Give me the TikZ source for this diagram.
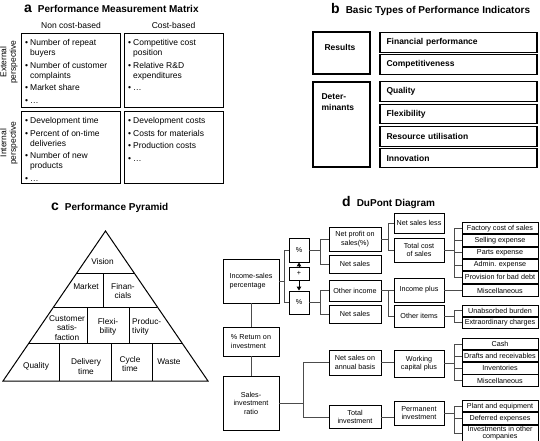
\documentclass[tikz,border=0pt]{standalone}
\usepackage{fontspec}
\setmainfont{Liberation Sans}
\usetikzlibrary{positioning,calc,arrows.meta}

\newcommand{\panelletter}[1]{{\fontsize{14}{14}\selectfont #1}\hspace{6pt}}
\newcommand{\bulletlist}[1]{\begin{tabular}{@{}l@{\hspace{2pt}}l@{}}#1\end{tabular}}

\begin{document}
\begin{tikzpicture}[x=1pt, y=-1pt,
  every node/.style={font=\fontsize{8.5}{10}\selectfont},
  ttl/.style={anchor=west, inner sep=0pt, font=\fontsize{10}{12}\selectfont\bfseries},
  mbox/.style={draw, line width=1pt, minimum width=99pt},
  mlist/.style={anchor=north west, inner sep=0pt},
  side/.style={rotate=90, align=center, font=\fontsize{8.5}{9.5}\selectfont},
  bbox/.style={draw, line width=1.2pt, minimum width=57pt},
  btxt/.style={anchor=north west, inner sep=0pt, align=left, font=\fontsize{8.5}{11}\selectfont\bfseries},
  tbox/.style={draw, line width=1.2pt, minimum width=157pt, minimum height=19.5pt, inner xsep=6.5pt, text width=144pt, align=left, font=\fontsize{8.5}{10}\selectfont\bfseries},
  pyr/.style={line width=1pt},
  ptxt/.style={inner sep=0pt, align=center, font=\fontsize{8.3}{9.5}\selectfont},
  dbox/.style={draw, line width=0.9pt, inner sep=1pt, align=center, font=\fontsize{7.2}{8.5}\selectfont},
  rbox/.style={dbox, minimum width=76pt, minimum height=11.4pt, inner sep=0pt},
  conn/.style={draw=black!70, line width=1pt},
  tip/.style={-{Triangle[length=4pt,width=4.5pt]}, draw=black, line width=1pt}
]
\useasboundingbox (0,0) rectangle (540,440);

% a: measurement matrix
\node[ttl] (ttl-a) at (24,9) {\panelletter{a}Performance Measurement Matrix};
\node (hd-non) at (71,25) {Non cost-based};
\node (hd-cost) at (173.5,25) {Cost-based};
\node[mbox, minimum height=74pt] (ext-non) at (70.5,70) {};
\node[mbox, minimum height=74pt] (ext-cost) at (173.5,70) {};
\node[mbox, minimum height=72pt] (int-non) at (70.5,147) {};
\node[mbox, minimum height=72pt] (int-cost) at (173.5,147) {};
\node[side] (lb-ext) at (9,62) {External\\perspective};
\node[side] (lb-int) at (9,143) {Internal\\perspective};
\node[mlist] (ls-en) at ($(ext-non.north west)+(4.5,6)$) {\bulletlist{%
  \textbullet & Number of repeat\\ & buyers\\[2.5pt]
  \textbullet & Number of customer\\ & complaints\\[2.5pt]
  \textbullet & Market share\\[2.5pt]
  \textbullet & \ldots}};
\node[mlist] (ls-ec) at ($(ext-cost.north west)+(4.5,6)$) {\bulletlist{%
  \textbullet & Competitive cost\\ & position\\[2.5pt]
  \textbullet & Relative R\&D\\ & expenditures\\[2.5pt]
  \textbullet & \ldots}};
\node[mlist] (ls-in) at ($(int-non.north west)+(4.5,6)$) {\bulletlist{%
  \textbullet & Development time\\[2.5pt]
  \textbullet & Percent of on-time\\ & deliveries\\[2.5pt]
  \textbullet & Number of new\\ & products\\[2.5pt]
  \textbullet & \ldots}};
\node[mlist] (ls-ic) at ($(int-cost.north west)+(4.5,6)$) {\bulletlist{%
  \textbullet & Development costs\\[2.5pt]
  \textbullet & Costs for materials\\[2.5pt]
  \textbullet & Production costs\\[2.5pt]
  \textbullet & \ldots}};

% b: indicator types
\node[ttl] (ttl-b) at (331,9) {\panelletter{b}Basic Types of Performance Indicators};
\node[bbox, minimum height=42pt] (res) at (341.5,53) {};
\node[bbox, minimum height=85pt] (det) at (341.5,124.5) {};
\node[btxt] (res-txt) at ($(res.north west)+(12,13)$) {Results};
\node[btxt] (det-txt) at ($(det.north west)+(9,12)$) {Deter-\\minants};
\node[tbox] (fin) at (458.5,42.5) {Financial performance};
\node[tbox] (comp) at (458.5,64.5) {Competitiveness};
\node[tbox] (qual) at (458.5,91.5) {Quality};
\node[tbox] (flex) at (458.5,114) {Flexibility};
\node[tbox] (resu) at (458.5,136.5) {Resource utilisation};
\node[tbox] (innov) at (458.5,158) {Innovation};

% c: pyramid
\node[ttl] (ttl-c) at (51,208) {\panelletter{c}Performance Pyramid};
\coordinate (apex) at (105.5,231);
\coordinate (bl) at (3,381);
\coordinate (br) at (208,381);
\draw[pyr] (apex) -- (br) -- (bl) -- cycle;
\foreach \t in {0.28,0.507,0.747}
  \draw[pyr] ($(apex)!\t!(bl)$) -- ($(apex)!\t!(br)$);
\foreach \x/\ya/\yb in {103/273/307, 87/307/343, 129/307/343, 59/343/381, 111/343/381, 152/343/381}
  \draw[pyr] (\x,\ya) -- (\x,\yb);
\node[ptxt] (vision) at (102.5,262) {Vision};
\node[ptxt] (market) at (86,287) {Market};
\node[ptxt] (financials) at (123,291) {Finan-\\cials};
\node[ptxt] (customer) at (67,328) {Customer\\satis-\\faction};
\node[ptxt] (flexi) at (108,327) {Flexi-\\bility};
\node[ptxt, anchor=west, align=left] (produc) at (132,327) {Produc-\\tivity};
\node[ptxt] (quality) at (36,366) {Quality};
\node[ptxt] (delivery) at (86,366.5) {Delivery\\time};
\node[ptxt] (cycle) at (130,364) {Cycle\\time};
\node[ptxt] (waste) at (169,362) {Waste};

% d: DuPont
\node[ttl] (ttl-d) at (342,202) {\panelletter{d}DuPont Diagram};
\node[dbox, minimum width=56pt, minimum height=44pt, align=left] (isp) at (251,281) {Income-sales\\percentage};
\node[dbox, minimum width=56pt, minimum height=29pt, align=left] (roi) at (251,341.5) {\% Return on\\investment};
\node[dbox, minimum width=56pt, minimum height=54pt] (sir) at (251,403) {Sales-\\investment\\ratio};
\node[dbox, minimum width=20pt, minimum height=24pt] (pct1) at (299,250) {\%};
\node[dbox, minimum width=20pt, minimum height=13pt] (plus) at (299,273.5) {+};
\node[dbox, minimum width=20pt, minimum height=23pt] (pct2) at (299,302.5) {\%};
\node[dbox, minimum width=52pt, minimum height=24pt] (nps) at (355,239) {Net profit on\\sales(\%)};
\node[dbox, minimum width=52pt, minimum height=18pt] (ns1) at (355,264) {Net sales};
\node[dbox, minimum width=52pt, minimum height=21pt] (oi) at (355,290.5) {Other income};
\node[dbox, minimum width=52pt, minimum height=18pt] (ns2) at (355,314) {Net sales};
\node[dbox, minimum width=52pt, minimum height=25pt] (nsab) at (355,362.5) {Net sales on\\annual basis};
\node[dbox, minimum width=52pt, minimum height=23pt] (ti) at (355,417) {Total\\investment};
\node[dbox, minimum width=50pt, minimum height=20pt] (nsl) at (419,223) {Net sales less};
\node[dbox, minimum width=50pt, minimum height=24pt] (tcs) at (419,250) {Total cost\\of sales};
\node[dbox, minimum width=50pt, minimum height=24pt] (ip) at (419,290) {Income plus};
\node[dbox, minimum width=50pt, minimum height=22pt] (oit) at (419,316) {Other items};
\node[dbox, minimum width=50pt, minimum height=27pt] (wcp) at (419,363.5) {Working\\capital plus};
\node[dbox, minimum width=50pt, minimum height=24pt] (pi) at (419,413) {Permanent\\investment};

\node[rbox, anchor=north] (fcs) at (500,222) {Factory cost of sales};
\node[rbox, below=0pt of fcs] (se) {Selling expense};
\node[rbox, below=0pt of se] (pe) {Parts expense};
\node[rbox, below=0pt of pe] (ae) {Admin. expense};
\node[rbox, below=0pt of ae] (pbd) {Provision for bad debt};
\node[rbox] (misc1) at (500,290.5) {Miscellaneous};
\node[rbox, minimum height=11pt, anchor=north] (ub) at (500,305) {Unabsorbed burden};
\node[rbox, minimum height=11pt, below=0pt of ub] (ec) {Extraordinary charges};
\node[rbox, minimum height=11.25pt, anchor=north] (cash) at (500,338) {Cash};
\node[rbox, minimum height=11.25pt, below=0pt of cash] (drf) {Drafts and receivables};
\node[rbox, minimum height=11.25pt, below=0pt of drf] (inv) {Inventories};
\node[rbox, minimum height=11.25pt, below=0pt of inv] (misc2) {Miscellaneous};
\node[rbox, anchor=north] (plant) at (500,400) {Plant and equipment};
\node[rbox, below=0pt of plant] (defe) {Deferred expenses};
\node[rbox, minimum height=16pt, below=0pt of defe, font=\fontsize{7.2}{7}\selectfont] (ioc) {Investments in other\\companies};

\draw[conn] (isp) -- (roi);
\draw[conn] (roi) -- (sir);
\foreach \n in {pct1,pct2} \draw[conn] (isp.east) -- +(5,0) |- (\n.west);
\foreach \n in {nps,ns1} \draw[conn] (pct1.east) -- +(11,0) |- (\n.west);
\foreach \n in {oi,ns2} \draw[conn] (pct2.east) -- +(11,0) |- (\n.west);
\foreach \n in {nsl,tcs} \draw[conn] (nps.east) -- +(7,0) |- (\n.west);
\foreach \n in {ip,oit} \draw[conn] (oi.east) -- +(7,0) |- (\n.west);
\foreach \n in {fcs,se,pe,ae,pbd} \draw[conn] (tcs.east) -- +(10,0) |- (\n.west);
\foreach \n in {ub,ec} \draw[conn] (oit.east) -- +(10,0) |- (\n.west);
\foreach \n in {nsab,ti} \draw[conn] (sir.east) -- +(24,0) |- (\n.west);
\foreach \n in {cash,drf,inv,misc2} \draw[conn] (wcp.east) -- +(10,0) |- (\n.west);
\foreach \n in {plant,defe,ioc} \draw[conn] (pi.east) -- +(10,0) |- (\n.west);
\draw[conn] (ip.east) -- (ip.east -| misc1.west);
\draw[conn] (nsab.east) -- (nsab.east -| wcp.west);
\draw[conn] (ti.east) -- (ti.east -| pi.west);
\draw[tip] (plus) -- (pct1);
\draw[tip] (plus) -- (pct2);
\end{tikzpicture}
\end{document}
